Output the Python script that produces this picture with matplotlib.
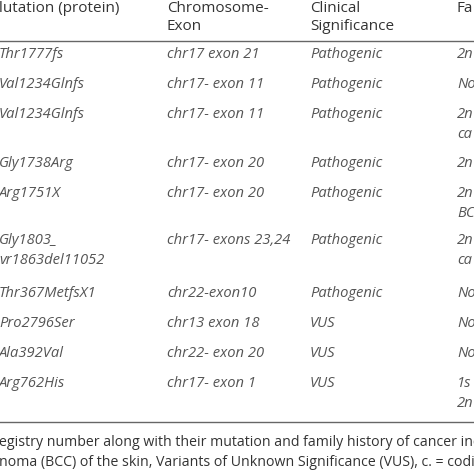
import matplotlib
matplotlib.use('Agg')
from matplotlib import pyplot as plt

# visible portion of the (cropped) table
header_1 = ['lutation (protein)', 'Chromosome-', 'Clinical', 'Fa']
header_2 = ['', 'Exon', 'Significance', '']

mutations = ['Thr1777fs', 'Val1234Glnfs', 'Val1234Glnfs', 'Gly1738Arg', 'Arg1751X',
             'Gly1803_\nvr1863del11052', 'Thr367MetfsX1', 'Pro2796Ser', 'Ala392Val', 'Arg762His']
exons = ['chr17 exon 21', 'chr17- exon 11', 'chr17- exon 11', 'chr17- exon 20', 'chr17- exon 20',
         'chr17- exons 23,24', 'chr22-exon10', 'chr13 exon 18', 'chr22- exon 20', 'chr17- exon 1']
significance = ['Pathogenic'] * 7 + ['VUS'] * 3
family = ['2n', 'No', '2n\nca', '2n', '2n\nBC', '2n\nca', 'No', 'No', 'No', '1s\n2n']
row_y = [54, 84, 114, 163, 193, 240, 293, 323, 353, 383]

caption = ['egistry number along with their mutation and family history of cancer inclu',
           'noma (BCC) of the skin, Variants of Unknown Significance (VUS), c. = coding']

col_x = [-1, 167, 310, 457]
W = H = 474

plt.rcParams['font.family'] = ['Open Sans', 'DejaVu Sans']
fig = plt.figure(figsize=(4.74, 4.74), dpi=100)


def put(x, y, s, **kw):
    fig.text(x / W, 1 - y / H, s, va='center', ha='left', **kw)


for x, a, b in zip(col_x, header_1, header_2):
    put(x, 8, a, fontsize=11, color='#333333', fontweight='medium')
    put(x, 27, b, fontsize=11, color='#333333', fontweight='medium')

fig.add_artist(plt.Line2D([0, 1], [1 - 40.5 / H] * 2, color='#666666', lw=1))

for y, m, e, s, f in zip(row_y, mutations, exons, significance, family):
    for x, t in zip(col_x, [m, e, s, f]):
        fig.text(x / W, 1 - (y - 7) / H, t, va='top', ha='left', fontsize=10.6,
                 color='#555555', style='italic', linespacing=1.45)

fig.add_artist(plt.Line2D([0, 1], [1 - 421.5 / H] * 2, color='#666666', lw=1))

# caption is cropped at the right edge in the reference
put(-1, 443, caption[0], fontsize=10.2, color='#333333')
put(-1, 462, caption[1], fontsize=10.2, color='#333333')

fig.savefig('out.png', dpi=100, facecolor='white')
